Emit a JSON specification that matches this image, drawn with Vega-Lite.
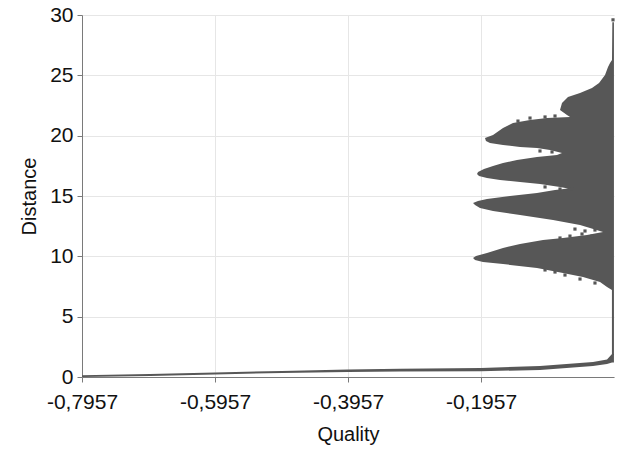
{
  "$schema": "https://vega.github.io/schema/vega-lite/v6.json",
  "width": 532,
  "height": 362,
  "autosize": {"type": "none"},
  "padding": {"left": 82, "top": 15, "right": 12, "bottom": 77},
  "background": "white",
  "datasets": {
    "cloud": [
      {"Distance": 1.82, "Left": 0.0012, "Right": 0.0042},
      {"Distance": 7.21, "Left": 0.0012, "Right": 0.0042},
      {"Distance": 7.46, "Left": -0.0062, "Right": 0.0042},
      {"Distance": 7.87, "Left": -0.0167, "Right": 0.0042},
      {"Distance": 8.29, "Left": -0.0423, "Right": 0.0042},
      {"Distance": 8.62, "Left": -0.0724, "Right": 0.0042},
      {"Distance": 9.03, "Left": -0.1115, "Right": 0.0042},
      {"Distance": 9.36, "Left": -0.1626, "Right": 0.0042},
      {"Distance": 9.53, "Left": -0.1927, "Right": 0.0042},
      {"Distance": 9.69, "Left": -0.2047, "Right": 0.0042},
      {"Distance": 9.86, "Left": -0.2077, "Right": 0.0042},
      {"Distance": 10.03, "Left": -0.2032, "Right": 0.0042},
      {"Distance": 10.28, "Left": -0.1867, "Right": 0.0042},
      {"Distance": 10.69, "Left": -0.1626, "Right": 0.0042},
      {"Distance": 11.02, "Left": -0.137, "Right": 0.0042},
      {"Distance": 11.35, "Left": -0.1024, "Right": 0.0042},
      {"Distance": 11.52, "Left": -0.0724, "Right": 0.0042},
      {"Distance": 11.77, "Left": -0.0363, "Right": 0.0042},
      {"Distance": 12.02, "Left": -0.0122, "Right": 0.0042},
      {"Distance": 12.35, "Left": -0.0318, "Right": 0.0042},
      {"Distance": 12.6, "Left": -0.0468, "Right": 0.0042},
      {"Distance": 13.01, "Left": -0.0874, "Right": 0.0042},
      {"Distance": 13.42, "Left": -0.137, "Right": 0.0042},
      {"Distance": 13.76, "Left": -0.1776, "Right": 0.0042},
      {"Distance": 14.01, "Left": -0.1972, "Right": 0.0042},
      {"Distance": 14.25, "Left": -0.2047, "Right": 0.0042},
      {"Distance": 14.42, "Left": -0.2077, "Right": 0.0042},
      {"Distance": 14.59, "Left": -0.2002, "Right": 0.0042},
      {"Distance": 14.75, "Left": -0.1867, "Right": 0.0042},
      {"Distance": 15.0, "Left": -0.1521, "Right": 0.0042},
      {"Distance": 15.25, "Left": -0.1115, "Right": 0.0042},
      {"Distance": 15.5, "Left": -0.0844, "Right": 0.0042},
      {"Distance": 15.62, "Left": -0.0649, "Right": 0.0042},
      {"Distance": 15.75, "Left": -0.0769, "Right": 0.0042},
      {"Distance": 15.99, "Left": -0.107, "Right": 0.0042},
      {"Distance": 16.16, "Left": -0.137, "Right": 0.0042},
      {"Distance": 16.33, "Left": -0.1671, "Right": 0.0042},
      {"Distance": 16.49, "Left": -0.1867, "Right": 0.0042},
      {"Distance": 16.66, "Left": -0.1987, "Right": 0.0042},
      {"Distance": 16.82, "Left": -0.2017, "Right": 0.0042},
      {"Distance": 16.99, "Left": -0.2002, "Right": 0.0042},
      {"Distance": 17.24, "Left": -0.1912, "Right": 0.0042},
      {"Distance": 17.49, "Left": -0.1776, "Right": 0.0042},
      {"Distance": 17.73, "Left": -0.1626, "Right": 0.0042},
      {"Distance": 17.98, "Left": -0.1416, "Right": 0.0042},
      {"Distance": 18.23, "Left": -0.1115, "Right": 0.0042},
      {"Distance": 18.4, "Left": -0.0814, "Right": 0.0042},
      {"Distance": 18.56, "Left": -0.0739, "Right": 0.0042},
      {"Distance": 18.81, "Left": -0.0919, "Right": 0.0042},
      {"Distance": 18.98, "Left": -0.1115, "Right": 0.0042},
      {"Distance": 19.06, "Left": -0.137, "Right": 0.0042},
      {"Distance": 19.23, "Left": -0.1626, "Right": 0.0042},
      {"Distance": 19.39, "Left": -0.1822, "Right": 0.0042},
      {"Distance": 19.56, "Left": -0.1882, "Right": 0.0042},
      {"Distance": 19.81, "Left": -0.1897, "Right": 0.0042},
      {"Distance": 20.05, "Left": -0.1776, "Right": 0.0042},
      {"Distance": 20.63, "Left": -0.1626, "Right": 0.0042},
      {"Distance": 21.05, "Left": -0.1476, "Right": 0.0042},
      {"Distance": 21.3, "Left": -0.122, "Right": 0.0042},
      {"Distance": 21.46, "Left": -0.0964, "Right": 0.0042},
      {"Distance": 21.55, "Left": -0.0618, "Right": 0.0042},
      {"Distance": 21.71, "Left": -0.0664, "Right": 0.0042},
      {"Distance": 22.13, "Left": -0.0769, "Right": 0.0042},
      {"Distance": 22.71, "Left": -0.0739, "Right": 0.0042},
      {"Distance": 23.21, "Left": -0.0649, "Right": 0.0042},
      {"Distance": 23.54, "Left": -0.0468, "Right": 0.0042},
      {"Distance": 23.95, "Left": -0.0288, "Right": 0.0042},
      {"Distance": 24.37, "Left": -0.0182, "Right": 0.0042},
      {"Distance": 25.03, "Left": -0.0092, "Right": 0.0042},
      {"Distance": 25.69, "Left": -0.0047, "Right": 0.0042},
      {"Distance": 26.02, "Left": -0.0017, "Right": 0.0042},
      {"Distance": 26.27, "Left": 0.0013, "Right": 0.0042},
      {"Distance": 29.4, "Left": 0.0018, "Right": 0.0042}
    ],
    "tail": [
      {"Quality": -0.7957, "Low": 0.0, "High": 0.15},
      {"Quality": -0.6934, "Low": 0.08, "High": 0.25},
      {"Quality": -0.5957, "Low": 0.21, "High": 0.37},
      {"Quality": -0.4949, "Low": 0.33, "High": 0.5},
      {"Quality": -0.3957, "Low": 0.41, "High": 0.62},
      {"Quality": -0.3175, "Low": 0.45, "High": 0.68},
      {"Quality": -0.1957, "Low": 0.48, "High": 0.75},
      {"Quality": -0.107, "Low": 0.58, "High": 0.91},
      {"Quality": -0.0273, "Low": 0.91, "High": 1.24},
      {"Quality": -0.0062, "Low": 1.08, "High": 1.45},
      {"Quality": 0.0013, "Low": 1.2, "High": 1.9},
      {"Quality": 0.0042, "Low": 1.2, "High": 1.9}
    ],
    "scatter": [
      {"Quality": 0.0028, "Distance": 29.6},
      {"Quality": -0.122, "Distance": 21.46},
      {"Quality": -0.0994, "Distance": 21.55},
      {"Quality": -0.0844, "Distance": 21.63},
      {"Quality": -0.1401, "Distance": 21.21},
      {"Quality": -0.107, "Distance": 18.73},
      {"Quality": -0.0889, "Distance": 18.65},
      {"Quality": -0.0994, "Distance": 15.75},
      {"Quality": -0.0769, "Distance": 15.58},
      {"Quality": -0.0589, "Distance": 15.58},
      {"Quality": -0.0544, "Distance": 12.26},
      {"Quality": -0.0393, "Distance": 12.1},
      {"Quality": -0.0243, "Distance": 12.18},
      {"Quality": -0.0619, "Distance": 11.68},
      {"Quality": -0.0438, "Distance": 11.85},
      {"Quality": -0.0288, "Distance": 11.68},
      {"Quality": -0.0769, "Distance": 11.52},
      {"Quality": -0.0994, "Distance": 8.87},
      {"Quality": -0.0694, "Distance": 8.45},
      {"Quality": -0.0468, "Distance": 8.12},
      {"Quality": -0.0243, "Distance": 7.79},
      {"Quality": -0.0844, "Distance": 8.7}
    ]
  },
  "layer": [
    {
      "data": {"name": "tail"},
      "mark": {"type": "area", "color": "#575757", "orient": "vertical"},
      "encoding": {
        "x": {"field": "Quality", "type": "quantitative"},
        "y": {"field": "Low", "type": "quantitative"},
        "y2": {"field": "High"}
      }
    },
    {
      "data": {"name": "cloud"},
      "mark": {"type": "area", "color": "#575757", "orient": "horizontal"},
      "encoding": {
        "y": {
          "field": "Distance",
          "type": "quantitative",
          "scale": {"domain": [0, 30], "nice": false, "zero": false},
          "axis": {
            "title": "Distance",
            "values": [0, 5, 10, 15, 20, 25, 30],
            "format": "d"
          }
        },
        "x": {
          "field": "Left",
          "type": "quantitative",
          "scale": {"domain": [-0.7957, 0.0043], "nice": false, "zero": false},
          "axis": {
            "title": "Quality",
            "values": [-0.7957, -0.5957, -0.3957, -0.1957],
            "format": ".4f",
            "labelFlush": false
          }
        },
        "x2": {"field": "Right"}
      }
    },
    {
      "data": {"name": "scatter"},
      "mark": {"type": "square", "color": "#575757", "opacity": 1, "size": 10},
      "encoding": {
        "x": {"field": "Quality", "type": "quantitative"},
        "y": {"field": "Distance", "type": "quantitative"}
      }
    }
  ],
  "config": {
    "locale": {
      "number": {
        "decimal": ",",
        "thousands": ".",
        "grouping": [3],
        "currency": ["", " €"],
        "minus": "-"
      }
    },
    "view": {"stroke": null},
    "axis": {
      "labelFont": "Liberation Sans",
      "titleFont": "Liberation Sans",
      "labelFontSize": 21,
      "titleFontSize": 20,
      "titleFontWeight": "normal",
      "labelColor": "#111111",
      "titleColor": "#111111",
      "gridColor": "#e6e6e6",
      "domainColor": "#7a7a7a",
      "tickColor": "#7a7a7a",
      "tickSize": 5
    },
    "axisX": {"labelPadding": 9, "titlePadding": 12},
    "axisY": {"labelPadding": 4, "titlePadding": 10}
  }
}
